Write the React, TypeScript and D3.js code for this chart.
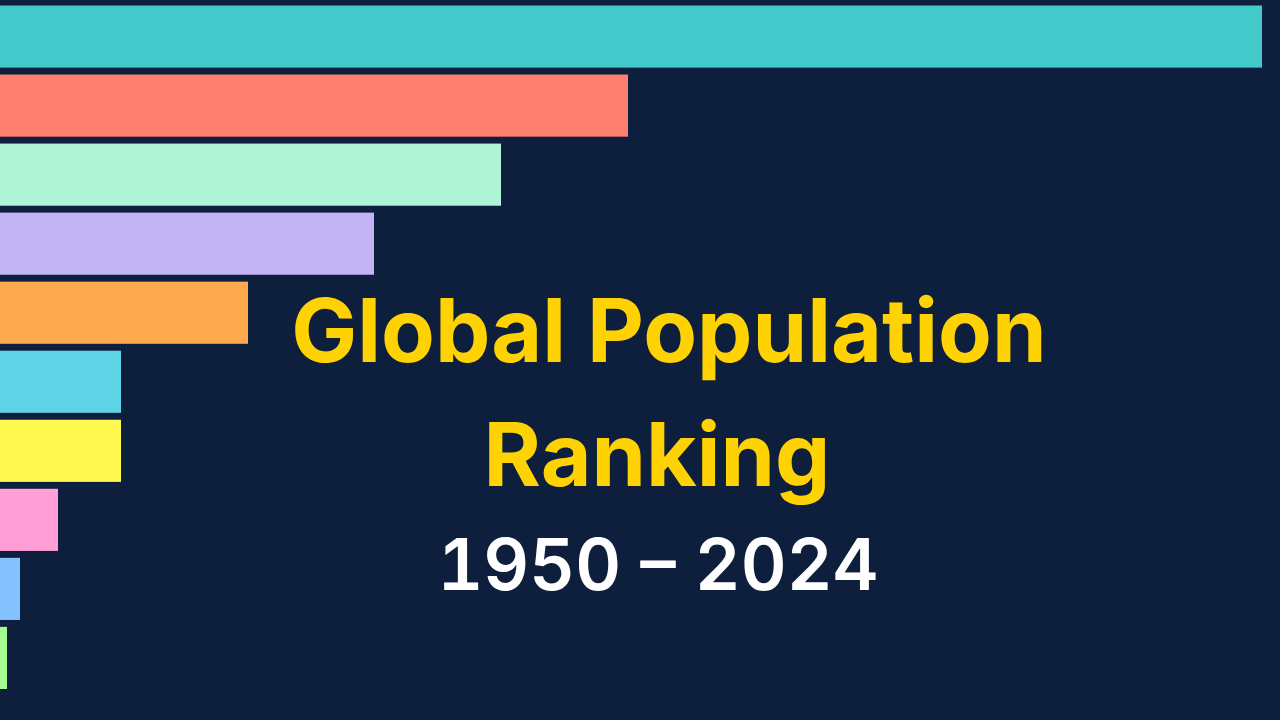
import * as d3 from "d3"

const ranks = ["1", "2", "3", "4", "5", "6", "7", "8", "9", "10"]
// bar lengths, in pixels of the 1280 wide frame
const values = [1262, 628, 501, 374, 248, 121, 121, 58, 20, 7]
const colors = [
  "#42c9c9",
  "#ff7f71",
  "#b0f4d8",
  "#c3b5f5",
  "#ffa94f",
  "#5fd3e6",
  "#fff94f",
  "#ff9fd6",
  "#85c1ff",
  "#a5fb8f",
]

const W = 1280
const H = 720
const bg = "#0d1f3c"

export default function App() {
  const x = d3.scaleLinear().domain([0, 1280]).range([0, W])
  const y = d3.scaleBand().domain(ranks).range([5.5, 689]).paddingInner(0.1)

  return (
    <svg
      width={W}
      height={H}
      viewBox={`0 0 ${W} ${H}`}
      style={{ position: "fixed", left: 0, top: 0, display: "block" }}
    >
      <rect width={W} height={H} fill={bg} />

      {ranks.map((r, i) => (
        <rect
          key={r}
          x={0}
          y={y(r)}
          width={x(values[i])}
          height={y.bandwidth()}
          fill={colors[i]}
        />
      ))}

      <g fontFamily="Inter" textAnchor="middle" fontWeight={700}>
        <text x={669} y={362} fontSize={87.9} fill="#ffd203">
          Global Population
        </text>
        <text x={657} y={485.5} fontSize={87.6} fill="#ffd203">
          Ranking
        </text>
        <text
          x={658}
          y={590}
          fontSize={71}
          fontWeight={600}
          fill="#ffffff"
          style={{ fontVariantNumeric: "tabular-nums" }}
        >
          1950 – 2024
        </text>
      </g>
    </svg>
  )
}
